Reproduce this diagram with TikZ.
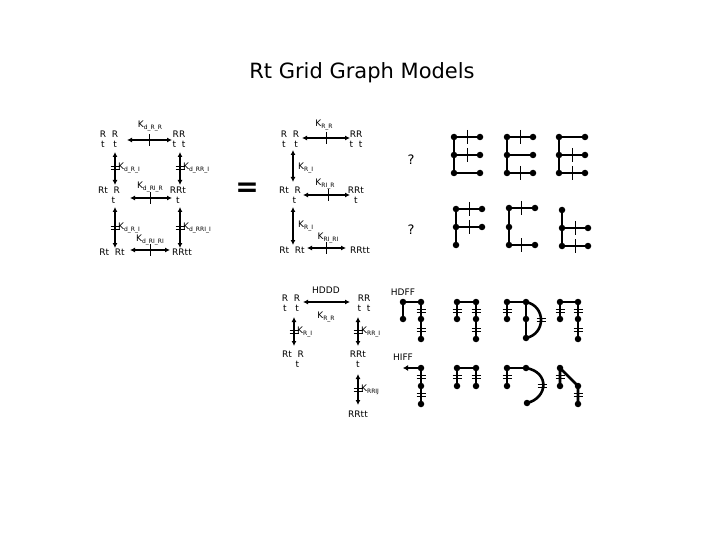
\documentclass[tikz,border=0pt]{standalone}
\usepackage{fontspec}
\setmainfont{DejaVu Sans}
\usetikzlibrary{arrows.meta,calc}
\tikzset{
 lbl/.style={inner sep=0pt,font=\fontsize{9}{10}\selectfont,align=center},
 sub/.style={inner sep=0pt,font=\fontsize{9}{10}\selectfont},
 arr/.style={line width=2.6pt,{Latex[length=5pt,width=5pt]}-{Latex[length=5pt,width=5pt]}},
 edge/.style={line width=2.6pt},
 dot/.style={circle,fill,inner sep=0pt,minimum size=6.5pt},
 tk/.style={line width=0.9pt}
}
\newcommand{\K}[1]{K\raisebox{-2pt}{\fontsize{6}{7}\selectfont #1}}
\newcommand{\htick}[1]{\draw[tk] ($(#1)+(0,-6)$) -- ($(#1)+(0,6)$);}
\newcommand{\vtick}[1]{\draw[tk] ($(#1)+(-4.5,-1.7)$) -- ($(#1)+(4.5,-1.7)$); \draw[tk] ($(#1)+(-4.5,1.7)$) -- ($(#1)+(4.5,1.7)$);}
\begin{document}
\begin{tikzpicture}[x=1pt,y=-1pt]
\useasboundingbox (0,0) rectangle (720,540);
\node[font=\fontsize{21}{24}\selectfont] (title) at (362,73) {Rt Grid Graph Models};
\node[font=\fontsize{28}{28}\selectfont\bfseries] (eq) at (247,190) {=};
% ---- diagram 1
\node[lbl] (a1) at (109,139) {R\ \ R\\t\ \ \ t};
\node[lbl] (a2) at (179,139) {RR\\t\ \ t};
\node[lbl] (a3) at (109,195) {Rt\ \ R\\\ \ \ t};
\node[lbl] (a4) at (178,195) {RRt\\t};
\node[lbl] (a5) at (112,252) {Rt\ \ Rt};
\node[lbl] (a6) at (182,252) {RRtt};
\draw[arr] (127,140) -- (172,140); \htick{149,140}
\draw[arr] (130,198) -- (172,198); \htick{150,198}
\draw[arr] (130,250) -- (170,250); \htick{150,250}
\draw[arr] (115,152) -- (115,185); \vtick{115,168}
\draw[arr] (180,152) -- (180,185); \vtick{180,168}
\draw[arr] (115,207) -- (115,248); \vtick{115,228}
\draw[arr] (180,207) -- (180,248); \vtick{180,228}
\node[sub] (k1) at (150,126) {\K{d\_R\_R}};
\node[sub,anchor=west] (k2) at (118,168) {\K{d\_R\_I}};
\node[sub,anchor=west] (k3) at (183,168) {\K{d\_RR\_I}};
\node[sub] (k4) at (150,187) {\K{d\_RI\_R}};
\node[sub,anchor=west] (k5) at (118,228) {\K{d\_R\_I}};
\node[sub,anchor=west] (k6) at (183,228) {\K{d\_RRI\_I}};
\node[sub] (k7) at (150,240) {\K{d\_RI\_RI}};
% ---- diagram 2
\node[lbl] (b1) at (290,139) {R\ \ R\\t\ \ \ t};
\node[lbl] (b2) at (356,139) {RR\\t\ \ t};
\node[lbl] (b3) at (290,195) {Rt\ \ R\\\ \ \ t};
\node[lbl] (b4) at (356,195) {RRt\\t};
\node[lbl] (b5) at (292,250) {Rt\ \ Rt};
\node[lbl] (b6) at (360,250) {RRtt};
\draw[arr] (302,138) -- (350,138); \htick{326,138}
\draw[arr] (303,195) -- (350,195); \htick{328,195}
\draw[arr] (307,248) -- (346,248); \htick{326,248}
\draw[arr] (293,150) -- (293,182);
\draw[arr] (293,207) -- (293,245);
\node[sub] (m1) at (324,125) {\K{R\_R}};
\node[sub,anchor=west] (m2) at (298,168) {\K{R\_I}};
\node[sub] (m3) at (325,184) {\K{RI\_R}};
\node[sub,anchor=west] (m4) at (298,226) {\K{R\_I}};
\node[sub] (m5) at (328,238) {\K{RI\_RI}};
\node[font=\fontsize{13}{13}\selectfont] (q1) at (411,160) {?};
\node[font=\fontsize{13}{13}\selectfont] (q2) at (411,230) {?};
% ---- diagram 3
\node[lbl] (c1) at (291,303) {R\ \ R\\t\ \ \ t};
\node[lbl] (c2) at (364,303) {RR\\t\ \ t};
\node[lbl] (c3) at (293,359) {Rt\ \ R\\\ \ \ t};
\node[lbl] (c4) at (358,359) {RRt\\t};
\node[lbl] (c5) at (358,414) {RRtt};
\node[lbl] (hd) at (326,290) {HDDD};
\draw[arr] (303,302) -- (350,302);
\draw[arr] (294,317) -- (294,346); \vtick{294,332}
\draw[arr] (358,317) -- (358,346); \vtick{358,332}
\draw[arr] (358,374) -- (358,405); \vtick{358,390}
\node[sub] (n1) at (326,317) {\K{R\_R}};
\node[sub,anchor=west] (n2) at (297,332) {\K{R\_I}};
\node[sub,anchor=west] (n3) at (361,332) {\K{RR\_I}};
\node[sub,anchor=west] (n4) at (361,390) {\K{RRIJ}};
% ---- E shapes
\foreach \x/\ta/\tb/\tc [count=\i] in {454/1/1/0,507/1/0/1,559/0/1/1}{
  \coordinate (e\i a) at (\x,137); \coordinate (e\i c) at (\x,173);
  \draw[edge] (e\i a) -- (e\i c);
  \foreach \y/\t in {137/\ta,155/\tb,173/\tc}{
    \draw[edge] (\x,\y) -- (\x+26,\y);
    \node[dot] at (\x,\y) {}; \node[dot] at (\x+26,\y) {};
    \ifnum\t=1 \draw[tk] (\x+13,\y-7) -- (\x+13,\y+7); \fi
  }
}
% F
\coordinate (f1) at (456,209); \coordinate (f2) at (456,227); \coordinate (f3) at (456,245);
\draw[edge] (f1) -- (f3);
\draw[edge] (f1) -- ++(26,0); \draw[edge] (f2) -- ++(26,0);
\foreach \p in {(456,209),(482,209),(456,227),(482,227),(456,245)} \node[dot] at \p {};
\draw[tk] (469,202) -- (469,216); \draw[tk] (469,220) -- (469,234);
% C
\draw[edge] (509,208) -- (509,245); \draw[edge] (509,208) -- (535,208); \draw[edge] (509,245) -- (535,245);
\foreach \p in {(509,208),(535,208),(509,227),(509,245),(535,245)} \node[dot] at \p {};
\draw[tk] (521,201) -- (521,215); \draw[tk] (521,238) -- (521,252);
% third
\draw[edge] (562,210) -- (562,246); \draw[edge] (562,228) -- (588,228); \draw[edge] (562,246) -- (588,246);
\foreach \p in {(562,210),(562,228),(588,228),(562,246),(588,246)} \node[dot] at \p {};
\draw[tk] (575,221) -- (575,235); \draw[tk] (575,239) -- (575,253);
% ---- HDFF row
\node[lbl] (hdff) at (403,292) {HDFF};
\node[lbl] (hiff) at (403,357) {HIFF};
\draw[edge] (403,319) -- (403,302) -- (421,302) -- (421,339);
\foreach \p in {(403,302),(421,302),(403,319),(421,319),(421,339)} \node[dot] at \p {};
\vtick{421,311} \vtick{421,330}
\draw[edge] (457,319) -- (457,302) -- (476,302) -- (476,339);
\foreach \p in {(457,302),(476,302),(457,319),(476,319),(476,339)} \node[dot] at \p {};
\vtick{457,311} \vtick{476,311} \vtick{476,330}
\draw[edge] (507,319) -- (507,302) -- (526,302) -- (526,338);
\draw[edge] (526,302) .. controls (546,306) and (546,334) .. (526,338);
\foreach \p in {(507,302),(526,302),(507,319),(526,319),(526,338)} \node[dot] at \p {};
\vtick{507,311} \vtick{541,320}
\draw[edge] (560,319) -- (560,302) -- (578,302) -- (578,339);
\foreach \p in {(560,302),(578,302),(560,319),(578,319),(578,339)} \node[dot] at \p {};
\vtick{560,311} \vtick{578,311} \vtick{578,330}
% ---- HIFF row
\draw[edge,{Latex[length=5pt,width=6pt]}-] (403,368) -- (421,368) -- (421,404);
\foreach \p in {(421,368),(421,386),(421,404)} \node[dot] at \p {};
\vtick{421,377} \vtick{421,395}
\draw[edge] (457,386) -- (457,368) -- (476,368) -- (476,386);
\foreach \p in {(457,368),(476,368),(457,386),(476,386)} \node[dot] at \p {};
\vtick{457,377} \vtick{476,377}
\draw[edge] (507,386) -- (507,368) -- (526,368);
\draw[edge] (526,368) .. controls (550,372) and (548,398) .. (527,403);
\foreach \p in {(507,368),(526,368),(507,386),(527,403)} \node[dot] at \p {};
\vtick{507,377} \vtick{542,386}
\draw[edge] (560,386) -- (560,368) -- (578,386) -- (578,404);
\foreach \p in {(560,368),(560,386),(578,386),(578,404)} \node[dot] at \p {};
\vtick{560,377} \vtick{578,395}
\end{tikzpicture}
\end{document}
